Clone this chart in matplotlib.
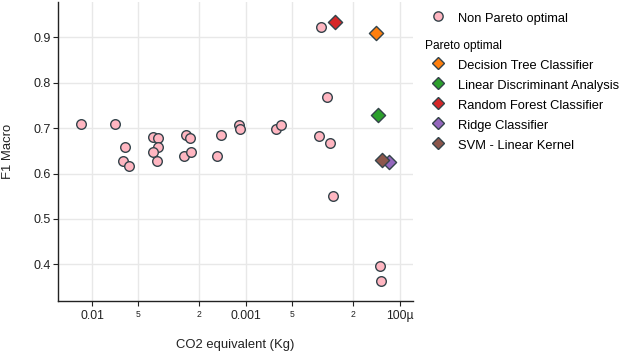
import matplotlib
matplotlib.use("Agg")
import matplotlib.pyplot as plt
from matplotlib.lines import Line2D

plt.rcParams['font.family'] = ['Liberation Sans', 'DejaVu Sans']

# Non Pareto optimal points
non_pareto_co2 = [0.0118, 0.00711, 0.00610, 0.00631, 0.00574, 0.00401, 0.00370, 0.00373,
                  0.00403, 0.00379, 0.00243, 0.00230, 0.00253, 0.00228, 0.00154, 0.00145,
                  0.00111, 0.00109, 0.000635, 0.000589, 0.000325, 0.000297, 0.000332,
                  0.000282, 0.000272, 0.000134, 0.000131]
non_pareto_f1 = [0.710, 0.710, 0.658, 0.628, 0.617, 0.681, 0.679, 0.658,
                 0.648, 0.628, 0.685, 0.679, 0.639, 0.648, 0.639, 0.685,
                 0.706, 0.698, 0.699, 0.707, 0.923, 0.769, 0.683,
                 0.668, 0.551, 0.396, 0.364]

# Pareto optimal models
pareto_models = ["Decision Tree Classifier", "Linear Discriminant Analysis",
                 "Random Forest Classifier", "Ridge Classifier", "SVM - Linear Kernel"]
pareto_co2 = [0.000143, 0.000139, 0.000264, 0.000117, 0.000130]
pareto_f1 = [0.909, 0.730, 0.933, 0.626, 0.631]
pareto_colors = ["#ff7f0e", "#2ca02c", "#d62728", "#9467bd", "#8c564b"]

x_ticks = [0.01, 0.005, 0.002, 0.001, 0.0005, 0.0002, 0.0001]
x_tick_labels = ["0.01", "5", "2", "0.001", "5", "2", "100\u00b5"]
y_ticks = [0.4, 0.5, 0.6, 0.7, 0.8, 0.9]

W, H = 622, 351
fig = plt.figure(figsize=(W / 100, H / 100), dpi=100)
ax = fig.add_axes([58.3 / W, 1 - 300.7 / H, (413 - 58.3) / W, (300.7 - 2) / H])

edge = "#34434a"
ax.scatter(non_pareto_co2, non_pareto_f1, s=48, c="#ffb6c1", edgecolors=edge,
           linewidths=1.0, zorder=3)
for m, xv, yv, col in zip(pareto_models, pareto_co2, pareto_f1, pareto_colors):
    ax.scatter([xv], [yv], s=52, marker="D", c=col, edgecolors=edge,
               linewidths=1.0, zorder=4)

ax.set_xscale("log")
ax.set_xlim(0.01656, 8.17e-5)
ax.set_ylim(0.320, 0.978)
ax.set_xticks(x_ticks)
ax.set_xticklabels(x_tick_labels)
ax.minorticks_off()
for lbl, txt in zip(ax.get_xticklabels(), x_tick_labels):
    if txt in ("5", "2"):
        lbl.set_fontsize(6.2)
    else:
        lbl.set_fontsize(8.8)
ax.set_yticks(y_ticks)
ax.set_yticklabels([f"{v:.1f}" for v in y_ticks], fontsize=9)

ax.tick_params(axis="x", length=3.5, width=0.8, pad=3.4, colors="#222222")
ax.tick_params(axis="y", length=3.5, width=0.8, pad=1.8, colors="#222222")
ax.grid(True, color="#e8e8e8", linewidth=1.0, zorder=0)
ax.set_axisbelow(True)
for s in ("top", "right"):
    ax.spines[s].set_visible(False)
for s in ("left", "bottom"):
    ax.spines[s].set_color("#222222")
    ax.spines[s].set_linewidth(1.0)

ax.set_xlabel("CO2 equivalent (Kg)", fontsize=9.4, labelpad=12, color="#222222")
ax.set_ylabel("F1 Macro", fontsize=9.4, labelpad=14, color="#222222")

# Legends
h1 = [Line2D([], [], linestyle="none", marker="o", markersize=6.7,
             markerfacecolor="#ffb6c1", markeredgecolor=edge, markeredgewidth=1.0)]
leg1 = fig.legend(h1, ["Non Pareto optimal"], loc="upper left",
                  bbox_to_anchor=(425 / W, 1 - 10.1 / H), frameon=False,
                  fontsize=9.3, handlelength=1.96, handletextpad=0.56,
                  handleheight=1.36, borderpad=0, borderaxespad=0)
h2 = [Line2D([], [], linestyle="none", marker="D", markersize=6.6,
             markerfacecolor=c, markeredgecolor=edge, markeredgewidth=1.0)
      for c in pareto_colors]
leg2 = fig.legend(h2, pareto_models, loc="upper left",
                  bbox_to_anchor=(425 / W, 1 - 40 / H), frameon=False,
                  fontsize=9.3, handlelength=1.96, handletextpad=0.56,
                  handleheight=1.36, borderpad=0, borderaxespad=0, labelspacing=0.42,
                  title="Pareto optimal", title_fontsize=8.6, alignment="left")

fig.savefig("out.png", dpi=100)
